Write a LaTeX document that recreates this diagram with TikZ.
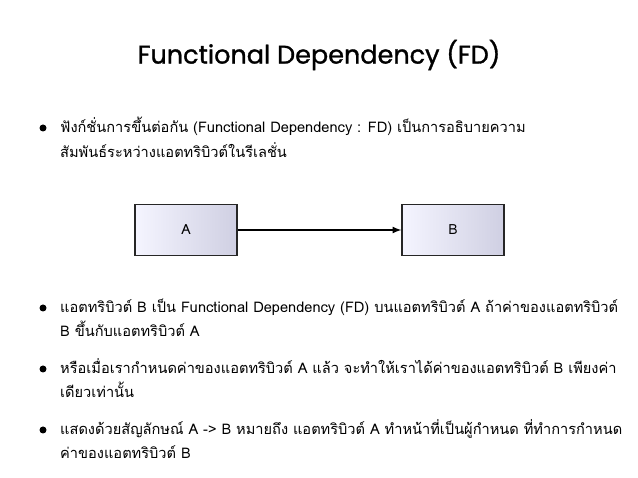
\documentclass[tikz,border=0pt]{standalone}
\usepackage{fontspec}
\newfontfamily\thai[Script=Thai]{Loma}
\newfontfamily\titlef[FakeBold=1.2]{Poppins}
\begin{document}
\begin{tikzpicture}[x=1pt,y=-1pt,
 line/.style={anchor=base west,inner sep=0pt,font=\thai\fontsize{14.6}{16}\selectfont},
 bul/.style={circle,fill=black,inner sep=0pt,minimum size=7pt},
 ent/.style={draw=black!85,line width=1.2pt,left color=blue!4!white,right color=blue!25!gray!30,minimum width=102pt,minimum height=51pt,font=\thai\fontsize{14}{16}\selectfont}]
\useasboundingbox (0,0) rectangle (638,478);
\node[font=\titlef\fontsize{25.5}{30}\selectfont] (t) at (319,55) {Functional Dependency (FD)};
\node[bul] (b1) at (43,128) {};
\node[line] (l1a) at (60,133) {ฟังก์ชั่นการขึ้นต่อกัน (Functional Dependency : FD) เป็นการอธิบายความ};
\node[line] (l1b) at (60,158) {สัมพันธ์ระหว่างแอตทริบิวต์ในรีเลชั่น};
\node[ent] (A) at (186,230) {A};
\node[ent] (B) at (453,230) {B};
\draw[line width=2pt,-latex] (A) -- (B);
\node[bul] (b2) at (43,308) {};
\node[line] (l2a) at (60,313) {แอตทริบิวต์ B เป็น Functional Dependency (FD) บนแอตทริบิวต์ A ถ้าค่าของแอตทริบิวต์};
\node[line] (l2b) at (60,337) {B ขึ้นกับแอตทริบิวต์ A};
\node[bul] (b3) at (43,369) {};
\node[line] (l3a) at (60,374) {หรือเมื่อเรากำหนดค่าของแอตทริบิวต์ A แล้ว จะทำให้เราได้ค่าของแอตทริบิวต์ B เพียงค่า};
\node[line] (l3b) at (60,398) {เดียวเท่านั้น};
\node[bul] (b4) at (43,430) {};
\node[line] (l4a) at (60,435) {แสดงด้วยสัญลักษณ์ A -> B หมายถึง แอตทริบิวต์ A ทำหน้าที่เป็นผู้กำหนด ที่ทำการกำหนด};
\node[line] (l4b) at (60,459) {ค่าของแอตทริบิวต์ B};
\end{tikzpicture}
\end{document}
